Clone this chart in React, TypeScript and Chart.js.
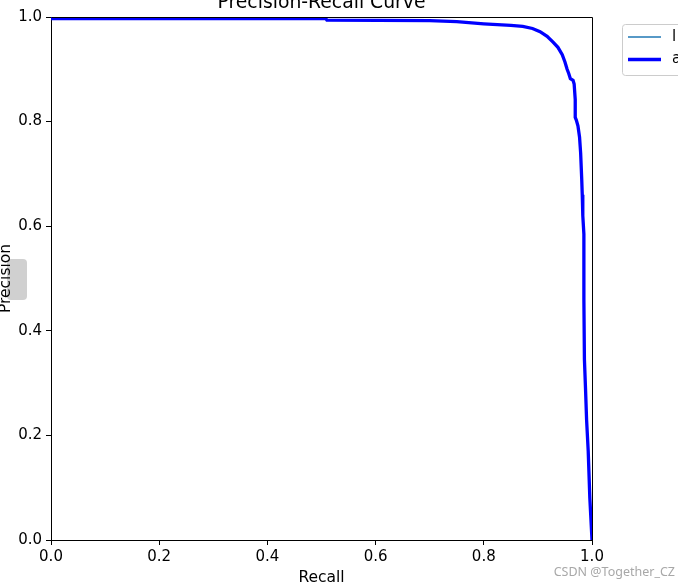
import React, { useEffect, useRef } from "react";
import { Chart, registerables } from "chart.js";

Chart.register(...registerables);

// ---- data ----
const recall = [
  0.0, 0.508, 0.51, 0.7, 0.75, 0.8, 0.85, 0.872, 0.89, 0.904, 0.917, 0.928,
  0.937, 0.945, 0.95, 0.954, 0.957, 0.96, 0.965, 0.967, 0.969, 0.969, 0.971,
  0.974, 0.977, 0.979, 0.981, 0.982, 0.983, 0.985, 0.985, 0.986, 0.988, 0.99,
  0.993, 0.996, 1.0,
];
const precision = [
  0.997, 0.997, 0.994, 0.993, 0.991, 0.987, 0.984, 0.982, 0.978, 0.972, 0.963,
  0.952, 0.942, 0.928, 0.914, 0.9, 0.892, 0.882, 0.879, 0.872, 0.842, 0.808,
  0.803, 0.792, 0.77, 0.74, 0.69, 0.66, 0.62, 0.585, 0.46, 0.345, 0.29, 0.23,
  0.17, 0.08, 0.0,
];
const seriesLabels = ["l 0.986", "all classes 0.986 mAP@0.5"];
const titleText = "Precision-Recall Curve";
const xAxisLabel = "Recall";
const yAxisLabel = "Precision";
const watermark = "CSDN @Together_CZ";
const axisMin = 0;
const axisMax = 1;
const tickStep = 0.2;

const FONT = "'DejaVu Sans', sans-serif";
const THIN_COLOR = "#1f77b4";
const THICK_COLOR = "#0000ff";

const overlayPlugin = {
  id: "overlay",
  beforeDraw(chart: any) {
    const ctx = chart.ctx;
    ctx.save();
    // gray rounded widget behind the y label
    ctx.fillStyle = "#d0d0d0";
    ctx.beginPath();
    (ctx as any).roundRect(7, 259, 20, 41, 4);
    ctx.fill();
    ctx.restore();
  },
  afterDraw(chart: any) {
    const ctx = chart.ctx;
    const { left, right, top, bottom } = chart.chartArea;
    ctx.save();
    // top and right spines
    ctx.strokeStyle = "#000";
    ctx.lineWidth = 1;
    const t = Math.round(top - 0.5) + 0.5;
    const r = Math.round(right - 0.5) + 0.5;
    const b = Math.round(bottom - 0.5) + 0.5;
    const l = Math.round(left - 0.5) + 0.5;
    ctx.beginPath();
    ctx.moveTo(l, t);
    ctx.lineTo(r, t);
    ctx.lineTo(r, b);
    ctx.stroke();

    // title
    ctx.fillStyle = "#000";
    ctx.font = `18.8px ${FONT}`;
    ctx.textAlign = "center";
    ctx.textBaseline = "alphabetic";
    ctx.fillText(titleText, (left + right) / 2, 7.5);

    // legend (cut off by the right edge)
    const lx = 622;
    const ly = 24.5;
    ctx.fillStyle = "rgba(255,255,255,0.8)";
    ctx.strokeStyle = "#cccccc";
    ctx.lineWidth = 1;
    ctx.beginPath();
    (ctx as any).roundRect(lx + 0.5, ly, 120, 51, 3);
    ctx.fill();
    ctx.stroke();

    const rows = [
      { y: 37, color: THIN_COLOR, w: 1.3 },
      { y: 59.5, color: THICK_COLOR, w: 3.3 },
    ];
    rows.forEach((row, i) => {
      ctx.strokeStyle = row.color;
      ctx.lineWidth = row.w;
      ctx.beginPath();
      ctx.moveTo(628, row.y);
      ctx.lineTo(661, row.y);
      ctx.stroke();
      ctx.fillStyle = "#000";
      ctx.font = `15px ${FONT}`;
      ctx.textAlign = "left";
      ctx.textBaseline = "middle";
      ctx.fillText(seriesLabels[i], 672, row.y);
    });

    // watermark
    ctx.fillStyle = "#a8a8a8";
    ctx.font = `12.5px 'Noto Sans', sans-serif`;
    ctx.textAlign = "right";
    ctx.textBaseline = "alphabetic";
    ctx.fillText(watermark, 675, 576);
    ctx.restore();
  },
};

export default function App() {
  const canvasRef = useRef<HTMLCanvasElement | null>(null);

  useEffect(() => {
    document.body.style.margin = "0";
    const canvas = canvasRef.current;
    if (!canvas) return;
    const points = recall.map((r, i) => ({ x: r, y: precision[i] }));
    const tickFont = { family: FONT, size: 15 };
    const chart = new Chart(canvas, {
      type: "line",
      data: {
        datasets: [
          {
            label: seriesLabels[1],
            data: points,
            borderColor: THICK_COLOR,
            borderWidth: 3.3,
            pointRadius: 0,
            tension: 0,
            order: 0,
          },
          {
            label: seriesLabels[0],
            data: points,
            borderColor: THIN_COLOR,
            borderWidth: 1,
            pointRadius: 0,
            tension: 0,
            order: 1,
          },
        ],
      },
      options: {
        animation: false,
        responsive: false,
        events: [],
        layout: { padding: { left: 0, top: 17, right: 86, bottom: 0 } },
        plugins: {
          legend: { display: false },
          title: { display: false },
          tooltip: { enabled: false },
        },
        scales: {
          x: {
            type: "linear",
            min: axisMin,
            max: axisMax,
            ticks: {
              stepSize: tickStep,
              callback: (v: any) => Number(v).toFixed(1),
              font: tickFont,
              color: "#000",
              padding: 3,
              maxRotation: 0,
              autoSkip: false,
            },
            grid: {
              drawOnChartArea: false,
              drawTicks: true,
              tickLength: 5,
              color: "#000",
              lineWidth: 1,
            },
            border: { display: true, color: "#000", width: 1 },
            title: {
              display: true,
              text: xAxisLabel,
              color: "#000",
              font: { family: FONT, size: 15.5, lineHeight: 0.8 },
              padding: 0,
            },
            afterFit: (s: any) => {
              s.height = 44;
            },
          },
          y: {
            type: "linear",
            min: axisMin,
            max: axisMax,
            ticks: {
              stepSize: tickStep,
              callback: (v: any) => Number(v).toFixed(1),
              font: tickFont,
              color: "#000",
              padding: 4,
            },
            grid: {
              drawOnChartArea: false,
              drawTicks: true,
              tickLength: 5,
              color: "#000",
              lineWidth: 1,
            },
            border: { display: true, color: "#000", width: 1 },
            title: {
              display: true,
              text: yAxisLabel,
              color: "#000",
              font: { family: FONT, size: 15.5, lineHeight: 0.71 },
              padding: 0,
            },
            afterFit: (s: any) => {
              s.width = 51;
            },
          },
        },
      },
      plugins: [overlayPlugin],
    } as any);
    return () => chart.destroy();
  }, []);

  return (
    <div style={{ position: "fixed", left: 0, top: 0, width: 678, height: 584, background: "#fff" }}>
      <canvas ref={canvasRef} width={678} height={584} />
    </div>
  );
}
